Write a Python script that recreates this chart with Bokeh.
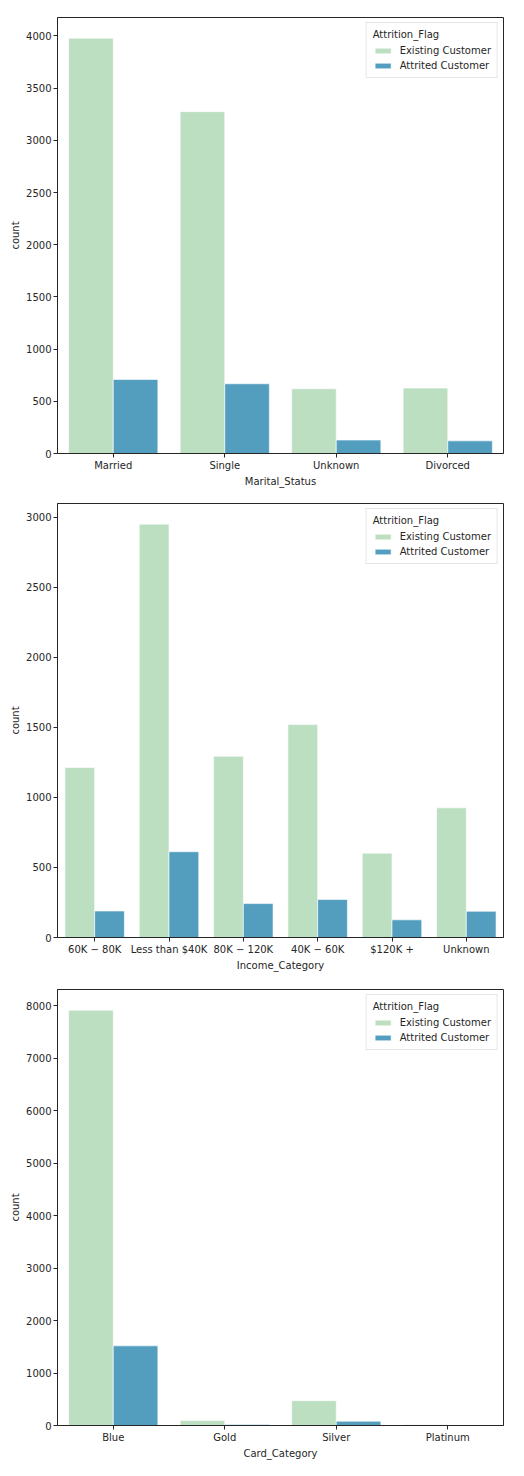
from bokeh.plotting import figure
from bokeh.layouts import column
from bokeh.models import FixedTicker, Range1d, Legend, LegendItem, ColumnDataSource
from bokeh.embed import file_html
from bokeh.resources import INLINE

# ---- data ----
marital_cats = ["Married", "Single", "Unknown", "Divorced"]
marital_existing = [3978, 3275, 620, 627]
marital_attrited = [709, 668, 129, 121]

income_cats = ["60K \u2212 80K", "Less than $40K", "80K \u2212 120K", "40K \u2212 60K", "$120K +", "Unknown"]
income_existing = [1213, 2949, 1293, 1519, 601, 925]
income_attrited = [189, 612, 242, 271, 126, 187]

card_cats = ["Blue", "Gold", "Silver", "Platinum"]
card_existing = [7917, 95, 473, 15]
card_attrited = [1519, 21, 82, 5]

series_names = ["Existing Customer", "Attrited Customer"]
colors = ["#bcdec1", "#539ebf"]

FONT = "DejaVu Sans"
TXT = "#262626"


def make_plot(cats, existing, attrited, xlabel, yticks, frame_h, top_b, bot_b):
    n = len(cats)
    ymax = max(max(existing), max(attrited)) * 1.05
    p = figure(width=524, height=top_b + frame_h + bot_b,
               frame_width=446, frame_height=frame_h,
               x_range=Range1d(-0.5, n - 0.5), y_range=Range1d(0, ymax),
               output_backend="svg", toolbar_location=None,
               min_border_left=57, min_border_right=21, min_border_top=top_b,
               min_border_bottom=bot_b)
    xs = list(range(n))
    src = ColumnDataSource(dict(
        x1=[x - 0.2 for x in xs], x2=[x + 0.2 for x in xs],
        e=existing, a=attrited))
    r1 = p.vbar(x="x1", top="e", width=0.4, source=src, fill_color=colors[0],
                line_color="white", line_width=0.6)
    r2 = p.vbar(x="x2", top="a", width=0.4, source=src, fill_color=colors[1],
                line_color="white", line_width=0.6)
    p.xaxis.ticker = FixedTicker(ticks=xs)
    p.xaxis.major_label_overrides = {i: c for i, c in enumerate(cats)}
    p.yaxis.ticker = FixedTicker(ticks=yticks)
    p.xaxis.axis_label = xlabel
    p.yaxis.axis_label = "count"
    for ax in [p.xaxis[0], p.yaxis[0]]:
        ax.axis_label_text_font = FONT
        ax.axis_label_text_font_size = "10px"
        ax.axis_label_text_font_style = "normal"
        ax.axis_label_text_color = TXT
        ax.major_label_text_font = FONT
        ax.major_label_text_font_size = "10px"
        ax.major_label_text_color = TXT
        ax.minor_tick_line_color = None
        ax.major_tick_out = 4
        ax.major_tick_in = 0
        ax.axis_line_color = TXT
        ax.major_tick_line_color = TXT
        ax.axis_label_standoff = 2
        ax.major_label_standoff = 2
    p.xgrid.grid_line_color = None
    p.ygrid.grid_line_color = None
    p.outline_line_color = TXT
    p.outline_line_alpha = 1
    p.background_fill_color = "white"
    p.border_fill_color = "white"
    legend = Legend(items=[LegendItem(label=series_names[0], renderers=[r1]),
                           LegendItem(label=series_names[1], renderers=[r2])],
                    location="top_right")
    legend.title = "Attrition_Flag"
    legend.title_text_font = FONT
    legend.title_text_font_size = "10px"
    legend.title_text_font_style = "normal"
    legend.title_text_color = TXT
    legend.title_text_align = "center"
    legend.label_text_font = FONT
    legend.label_text_font_size = "10px"
    legend.label_text_color = TXT
    legend.glyph_width = 20
    legend.glyph_height = 7
    legend.label_height = 12
    legend.label_standoff = 7
    legend.spacing = 3
    legend.padding = 6
    legend.margin = 5
    legend.border_line_color = "#cccccc"
    legend.title_standoff = 4
    p.add_layout(legend)
    return p


p1 = make_plot(marital_cats, marital_existing, marital_attrited, "Marital_Status",
               [0, 500, 1000, 1500, 2000, 2500, 3000, 3500, 4000], 436, 17, 41)
p2 = make_plot(income_cats, income_existing, income_attrited, "Income_Category",
               [0, 500, 1000, 1500, 2000, 2500, 3000], 434, 9, 43)
p3 = make_plot(card_cats, card_existing, card_attrited, "Card_Category",
               [0, 1000, 2000, 3000, 4000, 5000, 6000, 7000, 8000], 436, 9, 41)

layout = column(p1, p2, p3, spacing=0)
open("out.html", "w").write(file_html(layout, INLINE))
